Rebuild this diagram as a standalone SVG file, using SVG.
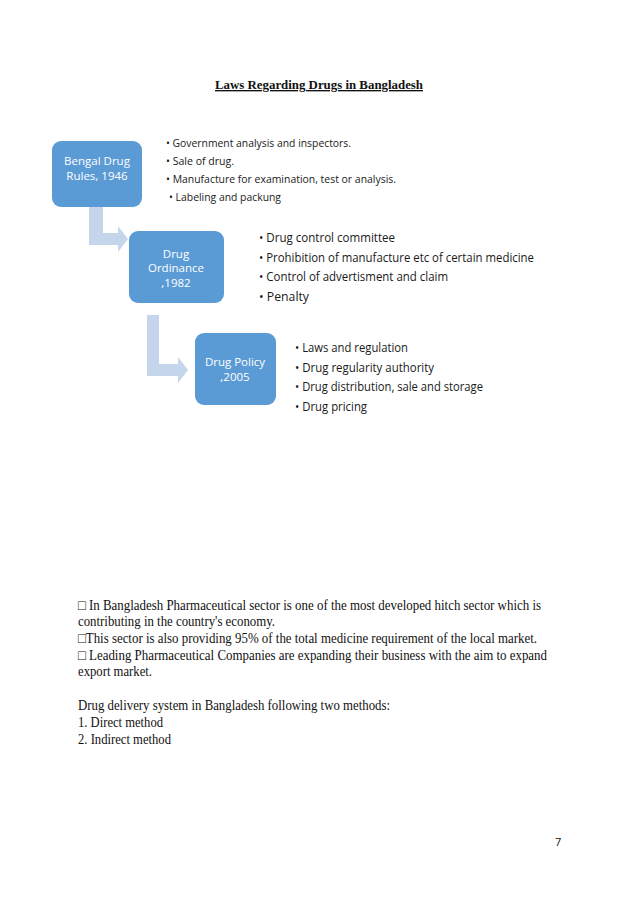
<svg xmlns="http://www.w3.org/2000/svg" width="638" height="902" viewBox="0 0 638 902">
<style>
.box{fill:#5b9bd5;}
.bt{font-family:"Open Sans","Noto Sans",sans-serif;font-size:11.5px;fill:#ffffff;text-anchor:middle;}
.li{font-family:"Open Sans","Noto Sans",sans-serif;fill:#1a1a1a;}
.s1{font-size:11px;}
.s2{font-size:12.5px;}
.conn{fill:#c5d5eb;}
.body{font-family:"Liberation Serif","Times New Roman",serif;font-size:14px;fill:#111;}
</style>
<rect width="638" height="902" fill="#ffffff"/>
<text x="319" y="89" text-anchor="middle" font-family="Liberation Serif,serif" font-weight="bold" font-size="13.5px" text-decoration="underline" textLength="208" lengthAdjust="spacingAndGlyphs" fill="#111">Laws Regarding Drugs in Bangladesh</text>

<g id="connectors">
<path class="conn" d="M89,207 H103 V233 H118 V226 L128,239 L118,252 V245 H89 Z"/>
<path class="conn" d="M147,315 H159 V364 H178 V357 L188,370 L178,383 V376 H147 Z"/>
</g>

<g id="n1">
<rect class="box" x="52" y="141" width="90" height="66" rx="9"/>
<text class="bt" x="97" y="165">Bengal Drug</text>
<text class="bt" x="97" y="180">Rules, 1946</text>
</g>
<g id="n1list">
<text class="li s1" x="166" y="147" textLength="185" lengthAdjust="spacingAndGlyphs">• Government analysis and inspectors.</text>
<text class="li s1" x="166" y="165" textLength="68" lengthAdjust="spacingAndGlyphs">• Sale of drug.</text>
<text class="li s1" x="166" y="183" textLength="230" lengthAdjust="spacingAndGlyphs">• Manufacture for examination, test or analysis.</text>
<text class="li s1" x="169" y="201" textLength="112" lengthAdjust="spacingAndGlyphs">• Labeling and packung</text>
</g>

<g id="n2">
<rect class="box" x="129" y="231" width="95" height="72" rx="9"/>
<text class="bt" x="176" y="258">Drug</text>
<text class="bt" x="176" y="272">Ordinance</text>
<text class="bt" x="176" y="287">,1982</text>
</g>
<g id="n2list">
<text class="li s2" x="259" y="242" textLength="136" lengthAdjust="spacingAndGlyphs">• Drug control committee</text>
<text class="li s2" x="259" y="262" textLength="275" lengthAdjust="spacingAndGlyphs">• Prohibition of manufacture etc of certain medicine</text>
<text class="li s2" x="259" y="281" textLength="189" lengthAdjust="spacingAndGlyphs">• Control of advertisment and claim</text>
<text class="li s2" x="259" y="301" textLength="50" lengthAdjust="spacingAndGlyphs">• Penalty</text>
</g>

<g id="n3">
<rect class="box" x="195" y="333" width="81" height="72" rx="9"/>
<text class="bt" x="235" y="366">Drug Policy</text>
<text class="bt" x="235" y="381">,2005</text>
</g>
<g id="n3list">
<text class="li s2" x="295" y="352" textLength="113" lengthAdjust="spacingAndGlyphs">• Laws and regulation</text>
<text class="li s2" x="295" y="372" textLength="139" lengthAdjust="spacingAndGlyphs">• Drug regularity authority</text>
<text class="li s2" x="295" y="391" textLength="188" lengthAdjust="spacingAndGlyphs">• Drug distribution, sale and storage</text>
<text class="li s2" x="295" y="411" textLength="72" lengthAdjust="spacingAndGlyphs">• Drug pricing</text>
</g>

<g id="bodytext">
<text class="body" x="78" y="610" textLength="463" lengthAdjust="spacingAndGlyphs">□ In Bangladesh Pharmaceutical sector is one of the most developed hitch sector which is</text>
<text class="body" x="78" y="626" textLength="197" lengthAdjust="spacingAndGlyphs">contributing in the country's economy.</text>
<text class="body" x="78" y="643" textLength="459" lengthAdjust="spacingAndGlyphs">□This sector is also providing 95% of the total medicine requirement of the local market.</text>
<text class="body" x="78" y="660" textLength="469" lengthAdjust="spacingAndGlyphs">□ Leading Pharmaceutical Companies are expanding their business with the aim to expand</text>
<text class="body" x="78" y="676" textLength="74" lengthAdjust="spacingAndGlyphs">export market.</text>
<text class="body" x="78" y="710" textLength="312" lengthAdjust="spacingAndGlyphs">Drug delivery system in Bangladesh following two methods:</text>
<text class="body" x="78" y="727" textLength="85" lengthAdjust="spacingAndGlyphs">1. Direct method</text>
<text class="body" x="78" y="744" textLength="93" lengthAdjust="spacingAndGlyphs">2. Indirect method</text>
</g>
<text x="555" y="846" font-family="Open Sans,Noto Sans,sans-serif" font-size="11px" fill="#111">7</text>
</svg>
